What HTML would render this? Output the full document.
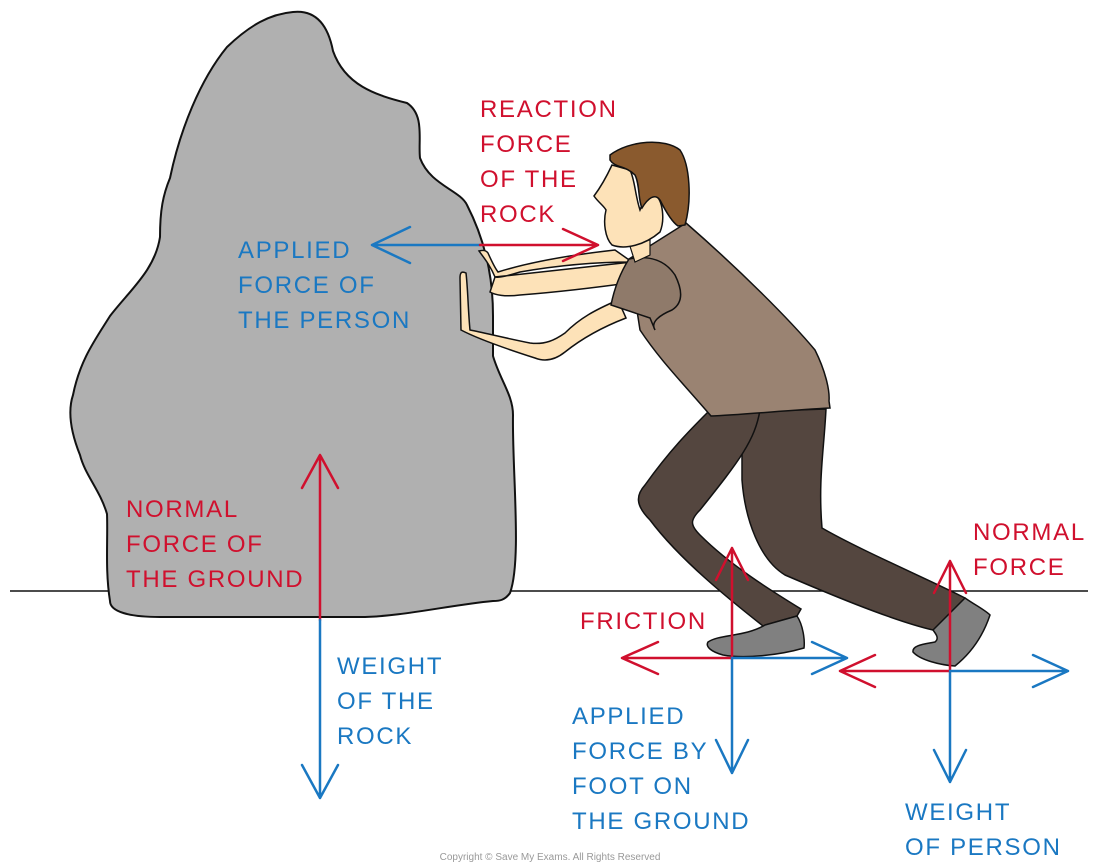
<!DOCTYPE html>
<html><head><meta charset="utf-8"><style>
html,body{margin:0;padding:0;background:#fff;}
svg{display:block}
text{font-family:"Liberation Sans","DejaVu Sans",sans-serif;font-size:24px;letter-spacing:1.7px;}
.r{fill:#d0102e}.b{fill:#1a78c2}
</style></head><body>
<svg width="1100" height="867" viewBox="0 0 1100 867" xmlns="http://www.w3.org/2000/svg">
<line x1="10" y1="591" x2="1088" y2="591" stroke="#111" stroke-width="1.5"/>
<!-- rock -->
<path d="M293,12 C312,10 327,20 333,51 C345,85 375,95 407,103 C425,115 418,140 420,158 C430,185 460,190 467,205 C490,250 493,290 493,316 C493,340 493,345 493,356 C500,380 513,395 513,415 C512,470 522,560 510,593 C505,600 500,601 493,601 C450,605 400,617 360,617 C300,617 220,617 160,617 C130,617 110,612 110,601 C105,570 108,540 107,514 C100,490 85,475 80,455 C70,430 68,410 73,395 C80,360 95,340 110,316 C130,290 155,270 160,237 C160,210 163,195 170,178 C180,130 200,80 227,47 C250,25 270,14 293,12 Z" fill="#b0b0b0" stroke="#111" stroke-width="2"/>
<!-- back leg pants -->
<path d="M742,412 L826,409 C824,450 818,480 822,528 C860,550 930,580 965,598 L966,605 C950,625 940,632 933,630 C890,620 820,590 785,575 C760,560 745,520 742,480 Z" fill="#54463f" stroke="#111" stroke-width="1.5"/>
<!-- front leg pants -->
<path d="M708,412 L760,410 C755,440 740,460 700,510 C690,520 690,525 700,535 C730,565 770,590 801,609 L797,616 C790,618 775,622 763,626 C730,600 680,560 650,520 C635,505 636,495 645,485 C670,450 690,430 708,412 Z" fill="#54463f" stroke="#111" stroke-width="1.5"/>
<!-- shoes -->
<path d="M708,642 C720,634 745,637 765,625 L797,616 C803,625 805,640 804,648 C780,655 745,659 723,655 C712,652 705,647 708,642 Z" fill="#808080" stroke="#111" stroke-width="1.5"/>
<path d="M933,630 L965,598 C975,605 985,610 990,615 C985,630 975,650 955,666 C940,665 920,660 913,652 C912,645 925,644 935,642 C940,638 935,633 933,630 Z" fill="#808080" stroke="#111" stroke-width="1.5"/>
<!-- arms -->
<path d="M632,262 C600,262 560,265 520,272 C510,275 500,278 495,277 C490,265 484,258 479,251 C483,250 486,250 488,253 C492,262 495,268 498,272 C530,262 570,255 615,250 Z M632,262 L636,282 C600,287 560,292 520,295 C505,297 495,295 490,292 L495,277 Z" fill="#fde2b8" stroke="#111" stroke-width="1.5"/>
<path d="M618,300 C595,310 580,318 565,333 C555,340 545,345 530,343 C505,338 485,333 470,330 L470,330 C468,310 468,290 466,273 C462,271 460,272 460,278 L461,330 C480,340 510,350 535,358 C545,362 555,360 565,352 C580,340 600,328 626,318 Z" fill="#fde2b8" stroke="#111" stroke-width="1.5"/>
<!-- torso -->
<path d="M686,223 C740,270 790,320 815,350 C825,370 830,390 829,401 L830,408 C790,410 740,415 711,416 C680,380 660,360 640,330 L629,259 Z" fill="#9a8372" stroke="#111" stroke-width="1.5"/>
<!-- sleeve -->
<path d="M629,259 C650,255 665,260 675,275 C685,295 680,305 672,310 C660,315 650,322 655,330 L650,318 L611,305 C615,285 622,270 629,259 Z" fill="#8f7a6a" stroke="#111" stroke-width="1.5"/>
<!-- neck/face -->
<path d="M628,240 L635,262 L650,255 L650,240 Z" fill="#fde2b8" stroke="#111" stroke-width="1.2"/>
<path d="M612,165 C605,180 600,188 594,196 C598,202 604,206 606,210 C603,222 605,238 612,245 C625,250 645,245 660,232 C665,220 663,200 655,195 C645,195 642,205 640,210 C635,195 635,180 630,170 Z" fill="#fde2b8" stroke="#111" stroke-width="1.5"/>
<path d="M610,155 C630,140 665,138 680,150 C690,165 692,200 685,225 L678,226 C672,222 665,210 660,200 C655,193 648,198 642,208 C638,200 640,185 635,175 C625,165 615,168 610,160 Z" fill="#8a5a2e" stroke="#111" stroke-width="1.5"/>
<!-- arrows -->
<g fill="none" stroke-width="2.5" stroke-linecap="round" stroke-linejoin="round">
<path d="M372,245 H480 M410,227 L372,245 L410,263" stroke="#1a78c2"/>
<path d="M480,245 H598 M563,229 L598,245 L563,261" stroke="#d0102e"/>
<path d="M320,620 V455 M302,488 L320,455 L338,488" stroke="#d0102e"/>
<path d="M320,620 V798 M302,765 L320,798 L338,765" stroke="#1a78c2"/>
<path d="M732,658 V548 M716,580 L732,548 L748,580" stroke="#d0102e"/>
<path d="M732,658 V773 M716,740 L732,773 L748,740" stroke="#1a78c2"/>
<path d="M732,658 H622 M658,642 L622,658 L658,674" stroke="#d0102e"/>
<path d="M732,658 H847 M812,642 L847,658 L812,674" stroke="#1a78c2"/>
<path d="M950,671 V561 M934,593 L950,561 L966,593" stroke="#d0102e"/>
<path d="M950,671 V782 M934,750 L950,782 L966,750" stroke="#1a78c2"/>
<path d="M950,671 H840 M875,655 L840,671 L875,687" stroke="#d0102e"/>
<path d="M950,671 H1068 M1033,655 L1068,671 L1033,687" stroke="#1a78c2"/>
</g>
<!-- labels -->
<g class="r">
<text x="480" y="117">REACTION</text><text x="480" y="152">FORCE</text><text x="480" y="187">OF THE</text><text x="480" y="222">ROCK</text>
<text x="126" y="517">NORMAL</text><text x="126" y="552">FORCE OF</text><text x="126" y="587">THE GROUND</text>
<text x="580" y="629">FRICTION</text>
<text x="973" y="540">NORMAL</text><text x="973" y="575">FORCE</text>
</g>
<g class="b">
<text x="238" y="258">APPLIED</text><text x="238" y="293">FORCE OF</text><text x="238" y="328">THE PERSON</text>
<text x="337" y="674">WEIGHT</text><text x="337" y="709">OF THE</text><text x="337" y="744">ROCK</text>
<text x="572" y="724">APPLIED</text><text x="572" y="759">FORCE BY</text><text x="572" y="794">FOOT ON</text><text x="572" y="829">THE GROUND</text>
<text x="905" y="820">WEIGHT</text><text x="905" y="855">OF PERSON</text>
</g>
<text x="550" y="860" text-anchor="middle" style="font-size:10px;letter-spacing:0;fill:#999">Copyright © Save My Exams. All Rights Reserved</text>
</svg>
</body></html>
